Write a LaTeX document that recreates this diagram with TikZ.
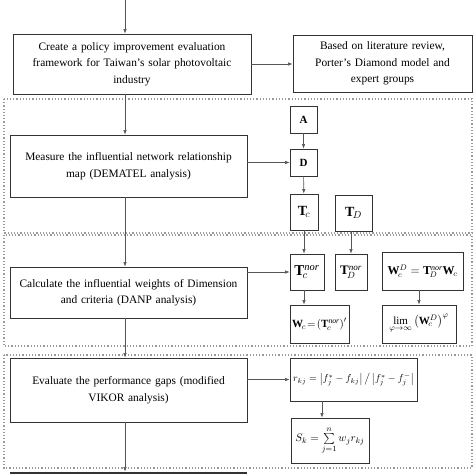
\documentclass[tikz,border=0pt]{standalone}
\usepackage{fontspec}
\setmainfont{Liberation Serif}
\setmathrm{Liberation Serif}
\usepackage{amsmath}
\usetikzlibrary{arrows.meta}
\definecolor{edge}{HTML}{333333}
\definecolor{conn}{HTML}{555555}
\definecolor{dots}{HTML}{999999}
\tikzset{
  box/.style={draw=edge, line width=0.9pt, inner sep=1pt, align=center, font=\fontsize{11.4}{16.5}\selectfont},
  mbox/.style={draw=edge, line width=0.9pt, inner sep=0pt, align=center},
  frame/.style={draw=dots, line width=1.2pt, dotted},
  conn/.style={draw=conn, line width=0.6pt, -{Latex[length=4.5pt,width=3.5pt]}},
}
\begin{document}
\begin{tikzpicture}[x=1pt,y=-1pt]
\useasboundingbox (0,0) rectangle (474,474);
% dotted frames
\draw[frame] (4,99) rectangle (472,233);
\draw[frame] (4,235) rectangle (472,346);
\draw[frame] (4,355) rectangle (472,468);
% main column
\coordinate (top) at (125,0);
\node[box, minimum width=238pt, minimum height=60pt, text width=234pt] (b1) at (132,64)
  {Create a policy improvement evaluation\\ framework for Taiwan’s solar photovoltaic\\ industry};
\node[box, minimum width=179pt, minimum height=57pt, text width=175pt] (b2) at (382.5,63.5)
  {Based on literature review,\\ Porter’s Diamond model and\\ expert groups};
\node[box, minimum width=237pt, minimum height=62pt, text width=233pt] (b3) at (128.5,166)
  {Measure the influential network relationship\\ map (DEMATEL analysis)};
\node[box, minimum width=237pt, minimum height=51pt, text width=233pt] (b4) at (128.5,292.5)
  {Calculate the influential weights of Dimension\\ and criteria (DANP analysis)};
\node[box, minimum width=237pt, minimum height=64pt, text width=233pt] (b5) at (128.5,390)
  {Evaluate the performance gaps (modified\\ VIKOR analysis)};
\fill[edge] (10,471.5) rectangle (247,474);
\coordinate (nextbox) at (125,471.5);
% DEMATEL
\node[mbox, minimum width=27pt, minimum height=27pt, font=\fontsize{11}{13}\selectfont] (A) at (303.5,119.5) {$\mathbf{A}$};
\node[mbox, minimum width=27pt, minimum height=27pt, font=\fontsize{11}{13}\selectfont] (D) at (303.5,162.5) {$\mathbf{D}$};
\node[mbox, minimum width=28pt, minimum height=36pt, font=\fontsize{14}{16}\selectfont] (Tc) at (304,212) {$\mathbf{T}_{\!c}$};
\node[mbox, minimum width=37pt, minimum height=36pt, font=\fontsize{14}{16}\selectfont] (TD) at (353.5,213) {$\mathbf{T}_{\!D}$};
% DANP
\node[mbox, minimum width=34pt, minimum height=36pt, font=\fontsize{15}{17}\selectfont] (Tcn) at (307,272) {$\mathbf{T}_{\!c}^{\mathit{nor}}$};
\node[mbox, minimum width=32pt, minimum height=36pt, font=\fontsize{13}{15}\selectfont] (TDn) at (351,272) {$\mathbf{T}_{\!D}^{\mathit{nor}}$};
\node[mbox, minimum width=81pt, minimum height=38pt, font=\fontsize{12}{14}\selectfont] (WD) at (422.5,271) {$\mathbf{W}_{\!c}^{D}=\mathbf{T}_{\!D}^{\mathit{nor}}\mathbf{W}_{\!c}$};
\node[mbox, minimum width=59pt, minimum height=38pt, font=\fontsize{11}{13}\selectfont] (Wc) at (319.5,324) {$\mathbf{W}_{\!c}\!=\!\left(\mathbf{T}_{\!c}^{\mathit{nor}}\right)'$};
\node[mbox, minimum width=74pt, minimum height=38pt, font=\fontsize{11}{13}\selectfont] (lim) at (419,324) {$\lim\limits_{\varphi\to\infty}\left(\mathbf{W}_{\!c}^{D}\right)^{\varphi}$};
% VIKOR
\node[mbox, minimum width=127pt, minimum height=43pt, font=\fontsize{10}{12}\selectfont] (r) at (353.5,379.5) {$r_{kj}=\left|f_j^{*}-f_{kj}\right|\big/\left|f_j^{*}-f_j^{-}\right|$};
\node[mbox, minimum width=78pt, minimum height=45pt, font=\fontsize{11}{13}\selectfont] (S) at (330,440.5) {$S_k=\sum\limits_{j=1}^{n} w_j r_{kj}$};
% connectors
\draw[conn] (top) -- (top |- b1.north);
\draw[conn] (b1.east) -- (b1.east -| b2.west);
\draw[conn] (b1.south -| top) -- (top |- b3.north);
\draw[conn] (b3.south -| top) -- (top |- b4.north);
\draw[conn] (b4.south -| top) -- (top |- b5.north);
\draw[conn] (b5.south -| top) -- (nextbox);
\draw[conn] (b3.east |- D.west) -- (D.west);
\draw[conn] (A) -- (D);
\draw[conn] (D) -- (Tc);
\draw[conn] (Tc.south) -- (Tc.south |- Tcn.north);
\draw[conn] (TD.south -| TDn.north) -- (TDn.north);
\draw[conn] (b4.east |- Tcn.west) -- (Tcn.west);
\draw[conn] (Tcn.south -| Tc.south) -- (Tc.south |- Wc.north);
\draw[conn] (WD.south -| lim.north) -- (lim.north);
\draw[conn] (b5.east |- r.west) -- (r.west);
\draw[conn] (r.south -| 322,0) -- (S.north -| 322,0);
\end{tikzpicture}
\end{document}
